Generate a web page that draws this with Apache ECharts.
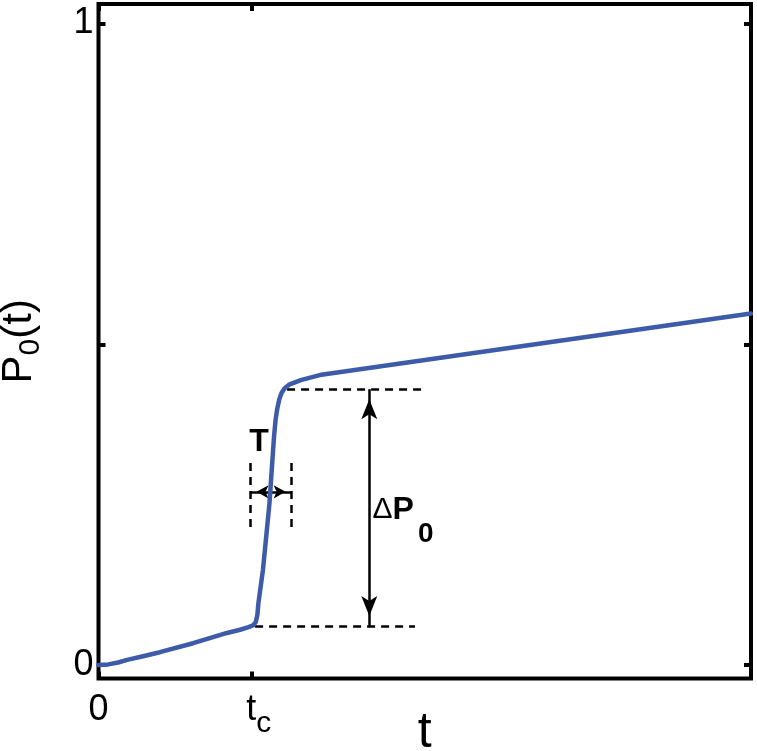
<!DOCTYPE html>
<html><head><meta charset="utf-8">
<script src="https://cdn.jsdelivr.net/npm/echarts@6/dist/echarts.min.js"></script>
<style>html,body{margin:0;padding:0;background:#fff}#c{width:757px;height:751px}</style>
</head><body><div id="c"></div>
<script>
// ---- data ----
const tValues = [0, 0.015, 0.03, 0.044, 0.07, 0.094, 0.145, 0.197, 0.217, 0.230, 0.237, 0.241, 0.2435, 0.245, 0.2485, 0.252, 0.257, 0.262, 0.2655, 0.269, 0.2715, 0.274, 0.277, 0.2805, 0.285, 0.292, 0.310, 0.339, 1.0];
const pValues = [0, 0.001, 0.004, 0.008, 0.014, 0.020, 0.034, 0.050, 0.055, 0.059, 0.062, 0.067, 0.078, 0.096, 0.122, 0.148, 0.200, 0.252, 0.304, 0.356, 0.383, 0.400, 0.414, 0.424, 0.431, 0.437, 0.444, 0.452, 0.548];
const tc = 0.235;
const xTicks = [0, tc];
const xTickLabels = ['0', '{t|t}{c|c}'];
const yTicks = [0, 0.5, 1];
const yLabelValues = [0, 1];
const yTickLabels = ['0', '1'];
const upperLevel = 0.430;
const lowerLevel = 0.061;
const upperDashX = [0.289, 0.500];
const lowerDashX = [0.240, 0.485];
const deltaArrowX = 0.415;
const tBoxX = [0.233, 0.296];
const tBoxY = [0.215, 0.324];
const tArrowY = 0.270;
const labelTPos = [0.246, 0.348];
const labelDPPos = [0.420, 0.2657];
const xRange = [0, 1];
const yRange = [-0.021, 1.0304];

const curve = tValues.map((t, i) => [t, pValues[i]]);
const font = 'Liberation Sans, Arial, sans-serif';
const dash = {color: '#000', width: 2.5, type: [8, 6]};
const solid = {color: '#000', width: 2.5, type: 'solid'};

const chart = echarts.init(document.getElementById('c'), null, {renderer: 'canvas'});
const hideAxis = {show: false};
const noLine = {show: false, onZero: false};
const tickStyle = {color: '#000', width: 4};
const plainText = {textBorderWidth: 0, textShadowBlur: 0, opacity: 1};

const option = {
  animation: false,
  grid: {left: 98.5, right: 6, top: 4, bottom: 72.5, show: true, borderColor: '#000', borderWidth: 4,
         containLabel: false, outerBoundsMode: 'none'},
  xAxis: [
    {type: 'value', min: xRange[0], max: xRange[1], position: 'bottom',
     axisLine: noLine, splitLine: hideAxis,
     axisTick: {show: true, inside: true, length: 7, lineStyle: tickStyle, customValues: xTicks},
     axisLabel: {show: true, customValues: xTicks, margin: 14, color: '#000', fontSize: 36, fontFamily: font,
       formatter: v => xTickLabels[xTicks.indexOf(v)],
       rich: {t: {fontSize: 36, fontFamily: font, color: '#000', padding: [0, 0, 0, 14], verticalAlign: 'top'},
              c: {fontSize: 30, fontFamily: font, color: '#000', padding: [16, 0, 0, 0], verticalAlign: 'bottom'}}},
     name: 't', nameLocation: 'middle', nameGap: 29.5, nameMoveOverlap: false,
     nameTextStyle: {fontSize: 50, fontFamily: font, color: '#000'}},
    {type: 'value', min: xRange[0], max: xRange[1], position: 'top',
     axisLine: noLine, splitLine: hideAxis, axisLabel: hideAxis,
     axisTick: {show: true, inside: true, length: 7, lineStyle: tickStyle, customValues: xTicks}}
  ],
  yAxis: [
    {type: 'value', min: yRange[0], max: yRange[1], position: 'left',
     axisLine: noLine, splitLine: hideAxis,
     axisTick: {show: true, inside: true, length: 7, lineStyle: tickStyle, customValues: yTicks},
     axisLabel: {show: true, customValues: yLabelValues, margin: 5, color: '#000', fontSize: 36, fontFamily: font,
       formatter: v => yTickLabels[yLabelValues.indexOf(v)]},
     name: '{p|P}{s|0}{p|(t)}', nameLocation: 'middle', nameGap: 52.5, nameMoveOverlap: false,
     nameTextStyle: {fontFamily: font, color: '#000',
       rich: {p: {fontSize: 42, fontFamily: font, color: '#000', verticalAlign: 'top'},
              s: {fontSize: 30, fontFamily: font, color: '#000', padding: [18, 0, 0, 0], verticalAlign: 'bottom'}}}},
    {type: 'value', min: yRange[0], max: yRange[1], position: 'right',
     axisLine: noLine, splitLine: hideAxis, axisLabel: hideAxis,
     axisTick: {show: true, inside: true, length: 7, lineStyle: tickStyle, customValues: yTicks}}
  ],
  series: [
    {type: 'line', data: curve, showSymbol: false, symbol: 'none', clip: true, z: 5,
     lineStyle: {color: '#3E5BA9', width: 4.5, cap: 'round', join: 'round'}},
    {type: 'line', data: [], silent: true, z: 4,
     markLine: {silent: true, animation: false, symbol: 'none', label: {show: false},
       lineStyle: dash,
       data: [
         [{coord: [upperDashX[0], upperLevel]}, {coord: [upperDashX[1], upperLevel]}],
         [{coord: [lowerDashX[0], lowerLevel]}, {coord: [lowerDashX[1], lowerLevel]}],
         [{coord: [tBoxX[0], tBoxY[0]]}, {coord: [tBoxX[0], tBoxY[1]]}],
         [{coord: [tBoxX[1], tBoxY[0]]}, {coord: [tBoxX[1], tBoxY[1]]}]
       ]}},
    {type: 'line', data: [], silent: true, z: 6,
     markLine: {silent: true, animation: false, label: {show: false},
       symbol: ['arrow', 'arrow'], symbolSize: [12, 20], symbolOffset: [[0, 10], [0, 10]],
       lineStyle: solid,
       data: [
         [{coord: [deltaArrowX, lowerLevel]}, {coord: [deltaArrowX, upperLevel]}]
       ]}},
    {type: 'line', data: [], silent: true, z: 6,
     markLine: {silent: true, animation: false, label: {show: false},
       symbol: ['arrow', 'arrow'], symbolSize: [10, 12], symbolOffset: [[0, 6], [0, 6]],
       lineStyle: solid,
       data: [
         [{coord: [tBoxX[0], tArrowY]}, {coord: [tBoxX[1], tArrowY]}]
       ]}},
    {type: 'scatter', symbolSize: 0, silent: true, z: 7,
     data: [labelTPos],
     label: Object.assign({show: true, position: 'inside', formatter: 'T', fontSize: 32, fontWeight: 'bold', fontFamily: font, color: '#000'}, plainText)},
    {type: 'scatter', symbolSize: 0, silent: true, z: 7,
     data: [labelDPPos],
     label: Object.assign({show: true, position: [0, 0], align: 'left', verticalAlign: 'top', formatter: '{d|Δ}{p|P}{s|0}', color: '#000',
       rich: {d: {fontSize: 30, fontFamily: font, color: '#000', verticalAlign: 'top'},
              p: {fontSize: 32, fontWeight: 'bold', fontFamily: font, color: '#000', verticalAlign: 'top'},
              s: {fontSize: 28, fontWeight: 'bold', fontFamily: font, color: '#000', padding: [26, 0, 0, 4], verticalAlign: 'bottom'}}}, plainText)}
  ]
};
chart.setOption(option);
</script>
</body></html>
